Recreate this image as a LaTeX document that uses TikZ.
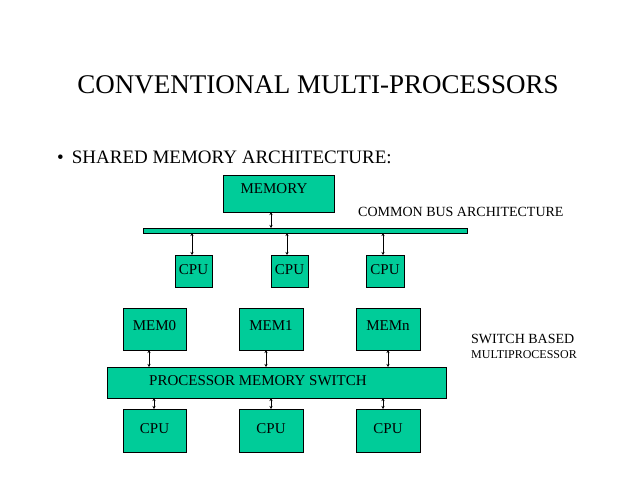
\documentclass[tikz,border=0pt]{standalone}
\usepackage{fontspec}
\usetikzlibrary{arrows.meta}
\setmainfont{Liberation Serif}
\begin{document}
\begin{tikzpicture}[x=1pt,y=-1pt,
  box/.style={draw=black,fill=boxc,line width=0.6pt},
  lbl/.style={inner sep=0pt,font=\fontsize{15}{15}\selectfont},
  conn/.style={{Stealth[length=3pt,width=3pt]}-{Stealth[length=3pt,width=3pt]},line width=0.6pt}]
\definecolor{boxc}{HTML}{00CC99}
\useasboundingbox (0,0) rectangle (638,479);
\node[inner sep=0pt,font=\fontsize{27}{27}\selectfont] (title) at (318,85) {CONVENTIONAL MULTI-PROCESSORS};
\node[inner sep=0pt,anchor=west,font=\fontsize{19}{19}\selectfont] (bul) at (57,157) {•\hspace{8pt}SHARED MEMORY ARCHITECTURE:};
% common bus
\draw[box] (223,175) rectangle (334,212);
\node[lbl] (memt) at (274,189) {MEMORY};
\draw[box] (143,228) rectangle (467,233);
\coordinate (mb) at (271,212); \coordinate (bm) at (271,228);
\draw[conn] (mb) -- (bm);
\node[inner sep=0pt,anchor=west,font=\fontsize{14}{14}\selectfont] (cba) at (358,212) {COMMON BUS ARCHITECTURE};
\foreach \a/\b/\x in {175/212/192,271/308/287,366/404/383}{
  \draw[box] (\a,255) rectangle (\b,287);
  \node[lbl] at ({(\a+\b)/2},270) {CPU};
  \coordinate (t\x) at (\x,233); \coordinate (c\x) at (\x,255);
  \draw[conn] (t\x) -- (c\x);
}
% switch based
\foreach \a/\b/\t in {123/186/MEM0,239/303/MEM1,356/420/MEMn}{
  \draw[box] (\a,308) rectangle (\b,350);
  \node[lbl] at ({(\a+\b)/2},326) {\t};
}
\draw[box] (107,367) rectangle (446,398);
\node[lbl,anchor=west] (swt) at (149,381) {PROCESSOR MEMORY SWITCH};
\foreach \x in {149,266,388}{
  \coordinate (m\x) at (\x,350); \coordinate (s\x) at (\x,367);
  \draw[conn] (m\x) -- (s\x);
}
\foreach \a/\b in {123/186,239/303,356/420}{
  \draw[box] (\a,409) rectangle (\b,452);
  \node[lbl] at ({(\a+\b)/2},429) {CPU};
}
\foreach \x in {154,271,383}{
  \coordinate (u\x) at (\x,398); \coordinate (v\x) at (\x,409);
  \draw[conn] (u\x) -- (v\x);
}
\node[inner sep=0pt,anchor=west,font=\fontsize{14}{14}\selectfont] (sb) at (471,339) {SWITCH BASED};
\node[inner sep=0pt,anchor=west,font=\fontsize{12}{12}\selectfont] (mp) at (471,355) {MULTIPROCESSOR};
\end{tikzpicture}
\end{document}
